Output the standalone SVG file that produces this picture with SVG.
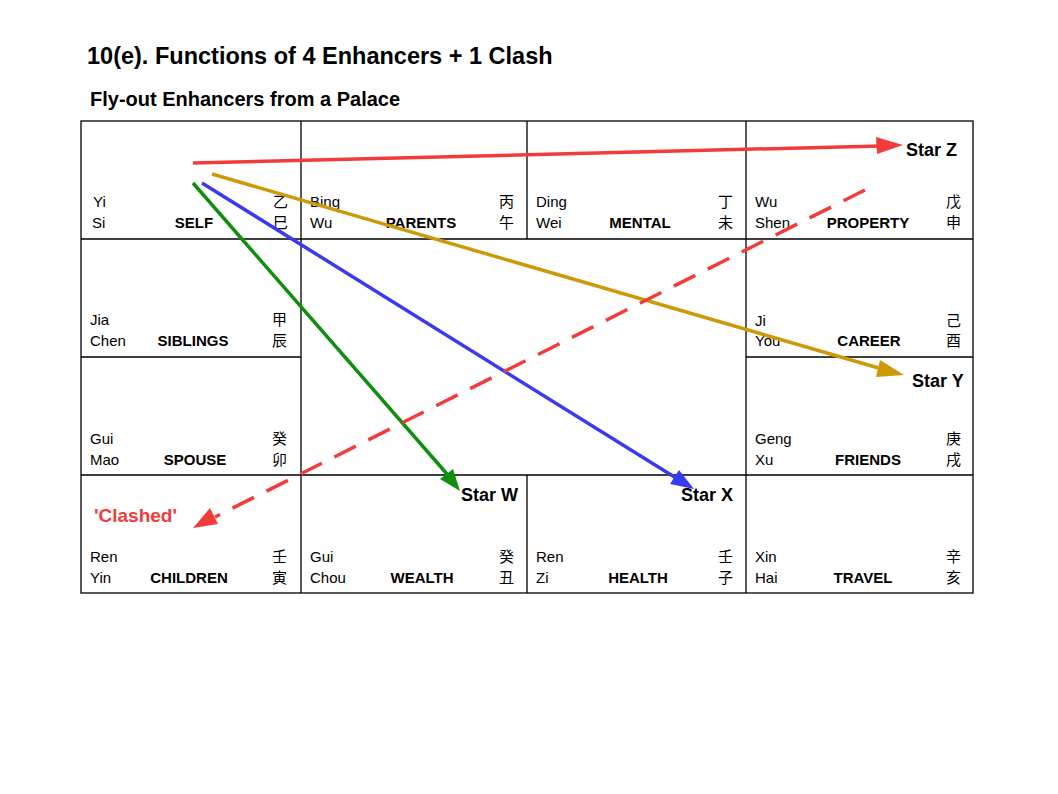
<svg xmlns="http://www.w3.org/2000/svg" width="1058" height="794" viewBox="0 0 1058 794">
<style>
text{font-family:"Liberation Sans",Arial,"Noto Sans CJK SC",sans-serif;font-size:15px;fill:#000}
.b{font-weight:bold;text-anchor:middle}
.r{text-anchor:end}
.c{stroke:#000;stroke-width:1.3;fill:none}
.s{font-weight:bold;font-size:18px}
</style>
<rect width="1058" height="794" fill="#fff"/>
<text x="87" y="64" style="font-weight:bold;font-size:23.5px">10(e). Functions of 4 Enhancers + 1 Clash</text>
<text x="90" y="106" style="font-weight:bold;font-size:20px">Fly-out Enhancers from a Palace</text>
<g id="grid" class="c">
<rect x="81" y="121" width="892" height="472"/>
<path d="M81 239H973M81 357H301M746 357H973M81 475H973M301 121V593M527 121V239M527 475V593M746 121V593"/>
</g>
<g id="self"><text x="93" y="207">Yi</text><text x="92" y="228">Si</text><text class="b" x="194" y="228">SELF</text><text class="r" x="288" y="207">乙</text><text class="r" x="288" y="228">巳</text></g>
<g id="parents"><text x="310" y="207">Bing</text><text x="310" y="228">Wu</text><text class="b" x="421" y="228">PARENTS</text><text class="r" x="514" y="207">丙</text><text class="r" x="514" y="228">午</text></g>
<g id="mental"><text x="536" y="207">Ding</text><text x="536" y="228">Wei</text><text class="b" x="640" y="228">MENTAL</text><text class="r" x="733" y="207">丁</text><text class="r" x="733" y="228">未</text></g>
<g id="property"><text x="755" y="207">Wu</text><text x="755" y="228">Shen</text><text class="b" x="868" y="228">PROPERTY</text><text class="r" x="961" y="207">戊</text><text class="r" x="961" y="228">申</text></g>
<g id="siblings"><text x="90" y="325">Jia</text><text x="90" y="346">Chen</text><text class="b" x="193" y="346">SIBLINGS</text><text class="r" x="287" y="325">甲</text><text class="r" x="287" y="346">辰</text></g>
<g id="career"><text x="755" y="326">Ji</text><text x="755" y="346">You</text><text class="b" x="869" y="346">CAREER</text><text class="r" x="961" y="326">己</text><text class="r" x="961" y="346">酉</text></g>
<g id="spouse"><text x="90" y="444">Gui</text><text x="90" y="465">Mao</text><text class="b" x="195" y="465">SPOUSE</text><text class="r" x="287" y="444">癸</text><text class="r" x="287" y="465">卯</text></g>
<g id="friends"><text x="755" y="444">Geng</text><text x="755" y="465">Xu</text><text class="b" x="868" y="465">FRIENDS</text><text class="r" x="961" y="444">庚</text><text class="r" x="961" y="465">戌</text></g>
<g id="children"><text x="90" y="562">Ren</text><text x="90" y="583">Yin</text><text class="b" x="189" y="583">CHILDREN</text><text class="r" x="287" y="562">壬</text><text class="r" x="287" y="583">寅</text></g>
<g id="wealth"><text x="310" y="562">Gui</text><text x="310" y="583">Chou</text><text class="b" x="422" y="583">WEALTH</text><text class="r" x="514" y="562">癸</text><text class="r" x="514" y="583">丑</text></g>
<g id="health"><text x="536" y="562">Ren</text><text x="536" y="583">Zi</text><text class="b" x="638" y="583">HEALTH</text><text class="r" x="733" y="562">壬</text><text class="r" x="733" y="583">子</text></g>
<g id="travel"><text x="755" y="562">Xin</text><text x="755" y="583">Hai</text><text class="b" x="863" y="583">TRAVEL</text><text class="r" x="961" y="562">辛</text><text class="r" x="961" y="583">亥</text></g>
<g id="connectors" stroke-width="3.5" fill="none">
<line x1="193" y1="163" x2="880" y2="146" stroke="#f23c3c"/>
<path d="M876 137L903 145L877 154z" fill="#f23c3c"/>
<line x1="212" y1="174" x2="882" y2="369" stroke="#cc9a06"/>
<path d="M880 360L904 375L876 377z" fill="#cc9a06"/>
<line x1="202" y1="183" x2="676" y2="478" stroke="#3a3aee"/>
<path d="M679 470L694 489L670 484z" fill="#3a3aee"/>
<line x1="193" y1="183" x2="447" y2="474" stroke="#0f8f0f"/>
<path d="M453 469L460 491L440 479z" fill="#0f8f0f"/>
<line x1="865" y1="190" x2="215" y2="517" stroke="#f23c3c" stroke-dasharray="24,14"/>
<path d="M210 508L193 528L218 524z" fill="#f23c3c"/>
</g>
<text class="s" x="906" y="156">Star Z</text>
<text class="s" x="912" y="387">Star Y</text>
<text class="s" x="461" y="501">Star W</text>
<text class="s" x="681" y="501">Star X</text>
<text x="94" y="522" style="font-weight:bold;font-size:19px;fill:#f23c3c">'Clashed'</text>
</svg>
